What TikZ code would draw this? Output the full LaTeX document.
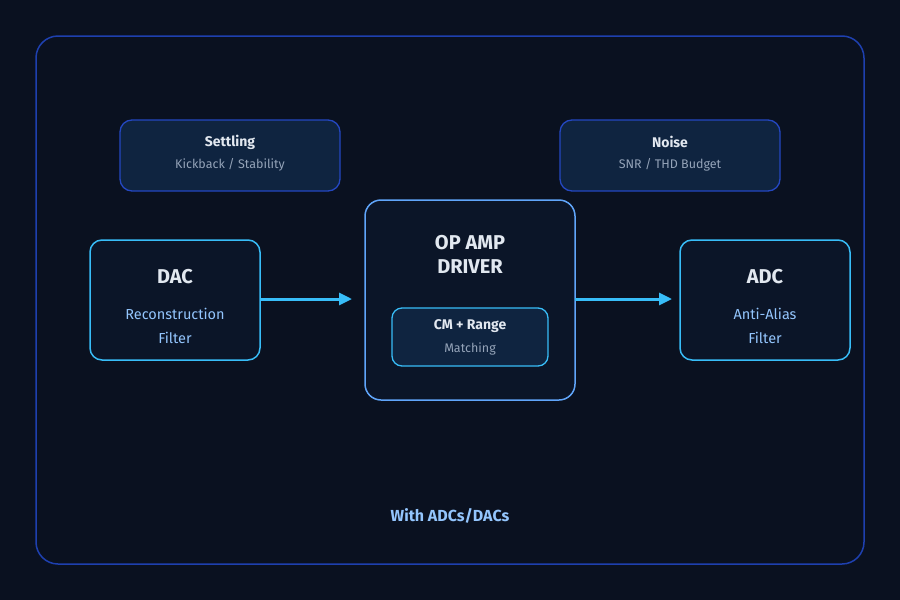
\documentclass[tikz,border=0pt]{standalone}
\usepackage{fontspec}
\setmainfont{Fira Sans}
\usetikzlibrary{arrows.meta}
\definecolor{bg}{HTML}{0A1120}
\definecolor{frame}{HTML}{1E40AF}
\definecolor{frame2}{HTML}{2447C0}
\definecolor{cyanc}{HTML}{38BDF8}
\definecolor{opc}{HTML}{60A5FA}
\definecolor{tfill}{HTML}{0F2440}
\definecolor{bfill}{HTML}{0B1528}
\definecolor{titlec}{HTML}{E2E8F0}
\definecolor{subc}{HTML}{93C5FD}
\definecolor{grayc}{HTML}{94A3B8}
\begin{document}
\begin{tikzpicture}[x=1pt,y=-1pt,
  box/.style={draw=cyanc,line width=1.5pt,fill=bfill,rounded corners=12pt},
  topbox/.style={draw=frame2,line width=1.3pt,fill=tfill,rounded corners=12pt},
  title/.style={text=titlec,font=\fontseries{sb}\selectfont\fontsize{20}{24}\selectfont},
  sub/.style={text=subc,font=\fontsize{14.5}{17}\selectfont},
  small/.style={text=titlec,font=\bfseries\fontsize{14}{17}\selectfont},
  gsub/.style={text=grayc,font=\fontsize{12.5}{15}\selectfont},
  arr/.style={draw=cyanc,line width=3pt,-{Triangle[length=13pt,width=12pt]}}]
\fill[bg] (0,0) rectangle (900,600);
\useasboundingbox (0,0) rectangle (900,600);
\draw[frame,line width=1.5pt,rounded corners=22pt] (36,36) rectangle (864,564);
\draw[topbox] (120,120) rectangle (340,191);
\node[small] (st) at (230,142) {Settling};
\node[gsub] (sts) at (230,165) {Kickback / Stability};
\draw[topbox] (560,120) rectangle (780,191);
\node[small] (no) at (670,142) {Noise};
\node[gsub] (nos) at (670,165) {SNR / THD Budget};
\draw[box] (90,240) rectangle (260,360);
\coordinate (dacR) at (260,299);
\node[title] (dac) at (175,277) {DAC};
\node[sub] (dac1) at (175,314) {Reconstruction};
\node[sub] (dac2) at (175,338) {Filter};
\draw[box] (680,240) rectangle (850,360);
\coordinate (adcL) at (672,299);
\node[title] (adc) at (765,277) {ADC};
\node[sub] (adc1) at (765,314) {Anti-Alias};
\node[sub] (adc2) at (765,338) {Filter};
\draw[draw=opc,line width=1.5pt,fill=bfill,rounded corners=16pt] (365,200) rectangle (575,400);
\coordinate (opL) at (352,299);
\coordinate (opR) at (575,299);
\node[title] (op1) at (470,243) {OP AMP};
\node[title] (op2) at (470,267) {DRIVER};
\draw[draw=cyanc,line width=1.3pt,fill=tfill,rounded corners=10pt] (392,308) rectangle (548,366);
\node[small] (cm) at (470,326) {CM + Range};
\node[gsub] (cms) at (470,349) {Matching};
\draw[arr] (dacR) -- (opL);
\draw[arr] (opR) -- (adcL);
\node[text=subc,font=\bfseries\fontsize{16}{19}\selectfont] (cap) at (450,516) {With ADCs/DACs};
\end{tikzpicture}
\end{document}
